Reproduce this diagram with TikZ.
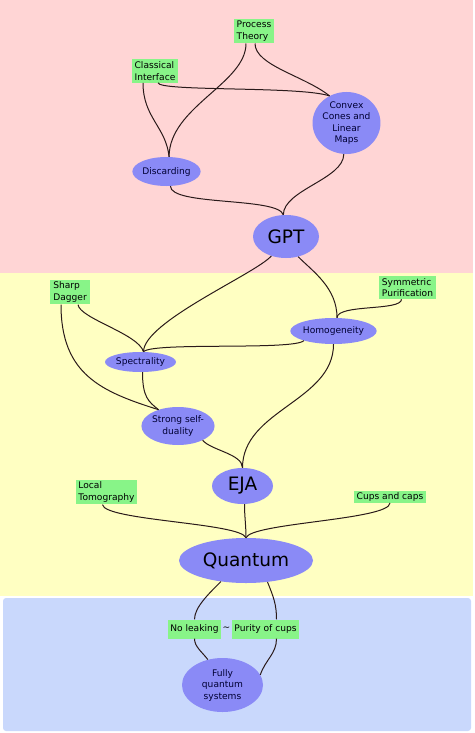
\documentclass[tikz,border=0pt]{standalone}
\usepackage{fontspec}
\setmainfont{DejaVu Sans}
\usepackage{tikz}
\usetikzlibrary{shapes.geometric}
\definecolor{pinkbg}{HTML}{FFD5D5}
\definecolor{yellowbg}{HTML}{FFFFC2}
\definecolor{bluebg}{HTML}{C9D8FC}
\definecolor{propgreen}{HTML}{88F488}
\definecolor{theoryblue}{HTML}{8A8AF6}
\definecolor{linkcol}{HTML}{2A1A1A}
\tikzset{prop/.style={fill=propgreen, align=left, inner xsep=2.8pt, inner ysep=2.3pt,
		font=\fontsize{9.1}{11.5}\selectfont},
	theory/.style={ellipse, fill=theoryblue, align=center, inner sep=0pt,
		text=black!80!blue, font=\fontsize{9.1}{11.5}\selectfont},
	big theory/.style={theory, text=black, font=\fontsize{18.5}{20}\selectfont},
	link/.style={draw=linkcol, line width=1pt}}

\begin{document}
\begin{tikzpicture}[x=1pt, y=-1pt]

	\useasboundingbox (0,0) rectangle (474,733);
	\fill[pinkbg] (0,0) rectangle (473,273);
	\fill[yellowbg] (0,273) rectangle (473,596);
	\fill[bluebg, rounded corners=3pt] (3,598) rectangle (471,731);

	\node[prop] (proc) at (254,31) {Process\\Theory};
	\node[prop] (classical) at (155,71) {Classical\\Interface};
	\node[theory, minimum width=65, minimum height=62] (cones) at (346.5,123) {Convex\\Cones and\\Linear\\Maps};
	\node[theory, minimum width=65, minimum height=29] (disc) at (166.5,171.5) {Discarding};
	\node[big theory, minimum width=66, minimum height=43] (gpt) at (286,236.5) {GPT};
	\node[prop] (sharp) at (70,292) {Sharp\\Dagger};
	\node[prop] (sympur) at (407.5,287.5) {Symmetric\\Purification};
	\node[theory, minimum width=73, minimum height=26] (homog) at (333.5,331) {Homogeneity};
	\node[theory, minimum width=71, minimum height=20] (spec) at (140.5,362) {Spectrality};
	\node[theory, minimum width=70, minimum height=38] (ssd) at (178,426) {Strong self-\\duality};
	\node[big theory, minimum width=61, minimum height=36] (eja) at (242.5,486) {EJA};
	\node[prop] (localtom) at (106.5,492) {Local\\Tomography};
	\node[prop, inner ysep=1.3pt] (cups) at (390,497) {Cups and caps};
	\node[big theory, minimum width=134, minimum height=45] (quantum) at (246,560.5) {Quantum};
	\node[prop, minimum height=19] (noleak) at (194.5,629) {No leaking};
	\node[font=\fontsize{9.1}{11}\selectfont] (tilde) at (226.5,629) {\textasciitilde};
	\node[prop, minimum height=19] (purity) at (265.5,629) {Purity of cups};
	\node[theory, minimum width=81, minimum height=54] (fully) at (222.5,685) {Fully\\quantum\\systems};

	\draw[link] ([xshift=-8pt]proc.south) .. controls +(0,40) and +(0,-50) .. (disc.80);
	\draw[link] ([xshift=1pt]proc.south) .. controls +(0,22) and +(-25,-20) .. (cones.122);
	\draw[link] ([xshift=-12pt]classical.south) .. controls +(0,35) and +(-3,-30) .. (disc.80);
	\draw[link] ([xshift=3pt]classical.south) .. controls +(1,9) and +(-30,-10) .. (cones.122);
	\draw[link] (disc.-75) .. controls +(0,20) and +(-5,-18) .. (gpt.97);
	\draw[link] (cones.265) .. controls +(0,25) and +(0,-25) .. (gpt.97);

	\draw[link] (gpt.233) .. controls +(-16,18) and +(0,-30) .. ([xshift=3pt]spec.north);
	\draw[link] (gpt.-59) .. controls +(15,15) and +(0,-30) .. (homog.75);
	\draw[link] ([xshift=-6pt]sympur.south) .. controls +(0,12) and +(0,-14) .. (homog.75);
	\draw[link] ([xshift=8pt]sharp.south) .. controls +(2,14) and +(-5,-18) .. ([xshift=3pt]spec.north);
	\draw[link] (homog.198) .. controls +(-10,10) and +(8,-10) .. ([xshift=3pt]spec.north);
	\draw[link] ([xshift=-9pt]sharp.south) .. controls +(0,70) and +(-57,-18) .. (ssd.140);
	\draw[link] ([xshift=2pt]spec.south) .. controls +(0,25) and +(-10,-8) .. (ssd.140);
	\draw[link] (homog.south) .. controls +(0,57) and +(0,-58) .. (eja.north);
	\draw[link] (ssd.-30) .. controls +(8,10) and +(0,-14) .. (eja.north);

	\draw[link] ([xshift=2pt]eja.south) .. controls +(0,12) and +(0,-12) .. (quantum.north);
	\draw[link] ([xshift=-4pt]localtom.south) .. controls +(2,16) and +(-5,-15) .. (quantum.north);
	\draw[link] (cups.south) .. controls +(0,17) and +(5,-15) .. (quantum.north);

	\draw[link] (quantum.220) .. controls +(-12,12) and +(0,-12) .. (noleak.north);
	\draw[link] (noleak.south) .. controls +(0,8) and +(-6,-8) .. (fully.120);
	\draw[link] (quantum.-45) .. controls +(6,15) and +(0,-15) .. ([xshift=11pt]purity.north);
	\draw[link] ([xshift=11pt]purity.south) .. controls +(0,15) and +(5,-15) .. (fully.15);

\end{tikzpicture}
\end{document}
